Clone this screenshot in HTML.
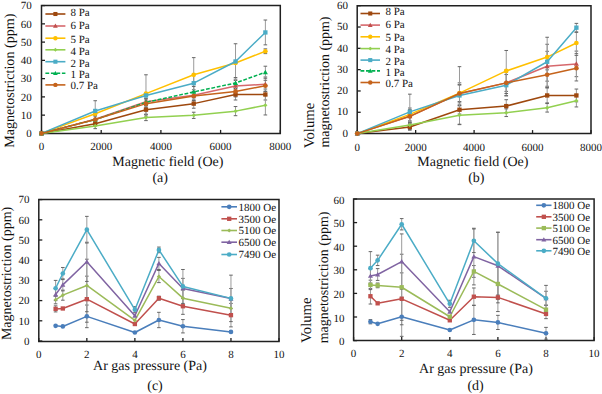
<!DOCTYPE html><html><head><meta charset="utf-8"><style>html,body{margin:0;padding:0;background:#fff;width:602px;height:394px;overflow:hidden}svg{display:block}text{font-family:"Liberation Serif",serif;fill:#111;text-rendering:geometricPrecision}</style></head><body>
<svg width="602" height="394" viewBox="0 0 602 394">
<path d="M41.5 5.6H280.3V133.4H41.5Z" fill="none" stroke="#202020" stroke-width="1.5" stroke-linejoin="miter"/>
<line x1="41.5" y1="133.4" x2="45" y2="133.4" stroke="#202020" stroke-width="1.3"/>
<text x="31.8" y="137.2" text-anchor="end" font-size="11">0</text>
<line x1="41.5" y1="115.14" x2="45" y2="115.14" stroke="#202020" stroke-width="1.3"/>
<text x="31.8" y="118.94" text-anchor="end" font-size="11">10</text>
<line x1="41.5" y1="96.89" x2="45" y2="96.89" stroke="#202020" stroke-width="1.3"/>
<text x="31.8" y="100.69" text-anchor="end" font-size="11">20</text>
<line x1="41.5" y1="78.63" x2="45" y2="78.63" stroke="#202020" stroke-width="1.3"/>
<text x="31.8" y="82.43" text-anchor="end" font-size="11">30</text>
<line x1="41.5" y1="60.37" x2="45" y2="60.37" stroke="#202020" stroke-width="1.3"/>
<text x="31.8" y="64.17" text-anchor="end" font-size="11">40</text>
<line x1="41.5" y1="42.11" x2="45" y2="42.11" stroke="#202020" stroke-width="1.3"/>
<text x="31.8" y="45.91" text-anchor="end" font-size="11">50</text>
<line x1="41.5" y1="23.86" x2="45" y2="23.86" stroke="#202020" stroke-width="1.3"/>
<text x="31.8" y="27.66" text-anchor="end" font-size="11">60</text>
<line x1="41.5" y1="5.6" x2="45" y2="5.6" stroke="#202020" stroke-width="1.3"/>
<text x="31.8" y="9.4" text-anchor="end" font-size="11">70</text>
<line x1="41.5" y1="133.4" x2="41.5" y2="129.9" stroke="#202020" stroke-width="1.3"/>
<text x="41.5" y="150.4" text-anchor="middle" font-size="11">0</text>
<line x1="101.2" y1="133.4" x2="101.2" y2="129.9" stroke="#202020" stroke-width="1.3"/>
<text x="101.2" y="150.4" text-anchor="middle" font-size="11">2000</text>
<line x1="160.9" y1="133.4" x2="160.9" y2="129.9" stroke="#202020" stroke-width="1.3"/>
<text x="160.9" y="150.4" text-anchor="middle" font-size="11">4000</text>
<line x1="220.6" y1="133.4" x2="220.6" y2="129.9" stroke="#202020" stroke-width="1.3"/>
<text x="220.6" y="150.4" text-anchor="middle" font-size="11">6000</text>
<line x1="280.3" y1="133.4" x2="280.3" y2="129.9" stroke="#202020" stroke-width="1.3"/>
<text x="280.3" y="150.4" text-anchor="middle" font-size="11">8000</text>
<path d="M145.98 114.23V105.1" stroke="#9a9a9a" stroke-width="1" fill="none"/>
<path d="M144.18 114.23H147.78M144.18 105.1H147.78" stroke="#666" stroke-width="1" fill="none"/>
<path d="M193.73 108.21V99.08" stroke="#9a9a9a" stroke-width="1" fill="none"/>
<path d="M191.93 108.21H195.53M191.93 99.08H195.53" stroke="#666" stroke-width="1" fill="none"/>
<path d="M235.53 99.99V89.04" stroke="#9a9a9a" stroke-width="1" fill="none"/>
<path d="M233.72 99.99H237.33M233.72 89.04H237.33" stroke="#666" stroke-width="1" fill="none"/>
<path d="M265.38 99.99V89.04" stroke="#9a9a9a" stroke-width="1" fill="none"/>
<path d="M263.57 99.99H267.18M263.57 89.04H267.18" stroke="#666" stroke-width="1" fill="none"/>
<path d="M145.98 105.47V98.16" stroke="#9a9a9a" stroke-width="1" fill="none"/>
<path d="M144.18 105.47H147.78M144.18 98.16H147.78" stroke="#666" stroke-width="1" fill="none"/>
<path d="M193.73 100.72V89.77" stroke="#9a9a9a" stroke-width="1" fill="none"/>
<path d="M191.93 100.72H195.53M191.93 89.77H195.53" stroke="#666" stroke-width="1" fill="none"/>
<path d="M235.53 91.41V80.45" stroke="#9a9a9a" stroke-width="1" fill="none"/>
<path d="M233.72 91.41H237.33M233.72 80.45H237.33" stroke="#666" stroke-width="1" fill="none"/>
<path d="M265.38 91.59V76.99" stroke="#9a9a9a" stroke-width="1" fill="none"/>
<path d="M263.57 91.59H267.18M263.57 76.99H267.18" stroke="#666" stroke-width="1" fill="none"/>
<path d="M193.73 91.96V57.63" stroke="#9a9a9a" stroke-width="1" fill="none"/>
<path d="M191.93 91.96H195.53M191.93 57.63H195.53" stroke="#666" stroke-width="1" fill="none"/>
<path d="M265.38 53.62V48.87" stroke="#9a9a9a" stroke-width="1" fill="none"/>
<path d="M263.57 53.62H267.18M263.57 48.87H267.18" stroke="#666" stroke-width="1" fill="none"/>
<path d="M95.23 128.65V123.18" stroke="#9a9a9a" stroke-width="1" fill="none"/>
<path d="M93.43 128.65H97.03M93.43 123.18H97.03" stroke="#666" stroke-width="1" fill="none"/>
<path d="M145.98 120.62V114.41" stroke="#9a9a9a" stroke-width="1" fill="none"/>
<path d="M144.18 120.62H147.78M144.18 114.41H147.78" stroke="#666" stroke-width="1" fill="none"/>
<path d="M193.73 118.43V112.22" stroke="#9a9a9a" stroke-width="1" fill="none"/>
<path d="M191.93 118.43H195.53M191.93 112.22H195.53" stroke="#666" stroke-width="1" fill="none"/>
<path d="M235.53 115.69V106.56" stroke="#9a9a9a" stroke-width="1" fill="none"/>
<path d="M233.72 115.69H237.33M233.72 106.56H237.33" stroke="#666" stroke-width="1" fill="none"/>
<path d="M265.38 114.96V95.61" stroke="#9a9a9a" stroke-width="1" fill="none"/>
<path d="M263.57 114.96H267.18M263.57 95.61H267.18" stroke="#666" stroke-width="1" fill="none"/>
<path d="M95.23 121.17V100.72" stroke="#9a9a9a" stroke-width="1" fill="none"/>
<path d="M93.43 121.17H97.03M93.43 100.72H97.03" stroke="#666" stroke-width="1" fill="none"/>
<path d="M145.98 116.06V74.79" stroke="#9a9a9a" stroke-width="1" fill="none"/>
<path d="M144.18 116.06H147.78M144.18 74.79H147.78" stroke="#666" stroke-width="1" fill="none"/>
<path d="M193.73 92.32V74.06" stroke="#9a9a9a" stroke-width="1" fill="none"/>
<path d="M191.93 92.32H195.53M191.93 74.06H195.53" stroke="#666" stroke-width="1" fill="none"/>
<path d="M235.53 79.18V43.76" stroke="#9a9a9a" stroke-width="1" fill="none"/>
<path d="M233.72 79.18H237.33M233.72 43.76H237.33" stroke="#666" stroke-width="1" fill="none"/>
<path d="M265.38 44.85V20.02" stroke="#9a9a9a" stroke-width="1" fill="none"/>
<path d="M263.57 44.85H267.18M263.57 20.02H267.18" stroke="#666" stroke-width="1" fill="none"/>
<path d="M95.23 123.18V115.87" stroke="#9a9a9a" stroke-width="1" fill="none"/>
<path d="M93.43 123.18H97.03M93.43 115.87H97.03" stroke="#666" stroke-width="1" fill="none"/>
<path d="M145.98 106.01V98.71" stroke="#9a9a9a" stroke-width="1" fill="none"/>
<path d="M144.18 106.01H147.78M144.18 98.71H147.78" stroke="#666" stroke-width="1" fill="none"/>
<path d="M193.73 97.43V86.48" stroke="#9a9a9a" stroke-width="1" fill="none"/>
<path d="M191.93 97.43H195.53M191.93 86.48H195.53" stroke="#666" stroke-width="1" fill="none"/>
<path d="M235.53 88.49V77.53" stroke="#9a9a9a" stroke-width="1" fill="none"/>
<path d="M233.72 88.49H237.33M233.72 77.53H237.33" stroke="#666" stroke-width="1" fill="none"/>
<path d="M265.38 78.26V66.21" stroke="#9a9a9a" stroke-width="1" fill="none"/>
<path d="M263.57 78.26H267.18M263.57 66.21H267.18" stroke="#666" stroke-width="1" fill="none"/>
<path d="M95.23 123.18V115.87" stroke="#9a9a9a" stroke-width="1" fill="none"/>
<path d="M93.43 123.18H97.03M93.43 115.87H97.03" stroke="#666" stroke-width="1" fill="none"/>
<path d="M145.98 107.29V99.99" stroke="#9a9a9a" stroke-width="1" fill="none"/>
<path d="M144.18 107.29H147.78M144.18 99.99H147.78" stroke="#666" stroke-width="1" fill="none"/>
<path d="M193.73 100.54V91.41" stroke="#9a9a9a" stroke-width="1" fill="none"/>
<path d="M191.93 100.54H195.53M191.93 91.41H195.53" stroke="#666" stroke-width="1" fill="none"/>
<path d="M235.53 96.89V85.93" stroke="#9a9a9a" stroke-width="1" fill="none"/>
<path d="M233.72 96.89H237.33M233.72 85.93H237.33" stroke="#666" stroke-width="1" fill="none"/>
<path d="M265.38 91.23V80.27" stroke="#9a9a9a" stroke-width="1" fill="none"/>
<path d="M263.57 91.23H267.18M263.57 80.27H267.18" stroke="#666" stroke-width="1" fill="none"/>
<polyline points="41.5,133.4 95.23,123.72 145.98,109.67 193.73,103.64 235.53,94.51 265.38,94.51" fill="none" stroke="#9E480E" stroke-width="1.5" stroke-linejoin="round"/>
<rect x="39.34" y="131.24" width="4.32" height="4.32" fill="#9E480E"/>
<rect x="93.07" y="121.56" width="4.32" height="4.32" fill="#9E480E"/>
<rect x="143.82" y="107.51" width="4.32" height="4.32" fill="#9E480E"/>
<rect x="191.57" y="101.48" width="4.32" height="4.32" fill="#9E480E"/>
<rect x="233.37" y="92.35" width="4.32" height="4.32" fill="#9E480E"/>
<rect x="263.21" y="92.35" width="4.32" height="4.32" fill="#9E480E"/>
<polyline points="41.5,133.4 95.23,119.16 145.98,101.82 193.73,95.24 235.53,85.93 265.38,84.29" fill="none" stroke="#D6686C" stroke-width="1.5" stroke-linejoin="round"/>
<path d="M41.5 130.88L44.02 135.29L38.98 135.29Z" fill="#C0504D"/>
<path d="M95.23 116.64L97.75 121.05L92.71 121.05Z" fill="#C0504D"/>
<path d="M145.98 99.3L148.5 103.71L143.46 103.71Z" fill="#C0504D"/>
<path d="M193.73 92.72L196.25 97.13L191.21 97.13Z" fill="#C0504D"/>
<path d="M235.53 83.41L238.05 87.82L233 87.82Z" fill="#C0504D"/>
<path d="M265.38 81.77L267.89 86.18L262.86 86.18Z" fill="#C0504D"/>
<polyline points="41.5,133.4 95.23,113.68 145.98,93.6 193.73,74.79 235.53,62.93 265.38,51.24" fill="none" stroke="#FFC000" stroke-width="1.5" stroke-linejoin="round"/>
<circle cx="41.5" cy="133.4" r="2.34" fill="#FFC000"/>
<circle cx="95.23" cy="113.68" r="2.34" fill="#FFC000"/>
<circle cx="145.98" cy="93.6" r="2.34" fill="#FFC000"/>
<circle cx="193.73" cy="74.79" r="2.34" fill="#FFC000"/>
<circle cx="235.53" cy="62.93" r="2.34" fill="#FFC000"/>
<circle cx="265.38" cy="51.24" r="2.34" fill="#FFC000"/>
<polyline points="41.5,133.4 95.23,125.91 145.98,117.52 193.73,115.33 235.53,111.13 265.38,105.28" fill="none" stroke="#92D050" stroke-width="1.5" stroke-linejoin="round"/>
<path d="M41.5 131.33L43.57 133.4L41.5 135.47L39.43 133.4Z" fill="#92D050"/>
<path d="M95.23 123.84L97.3 125.91L95.23 127.98L93.16 125.91Z" fill="#92D050"/>
<path d="M145.98 115.45L148.05 117.52L145.98 119.59L143.91 117.52Z" fill="#92D050"/>
<path d="M193.73 113.26L195.8 115.33L193.73 117.4L191.66 115.33Z" fill="#92D050"/>
<path d="M235.53 109.06L237.59 111.13L235.53 113.2L233.46 111.13Z" fill="#92D050"/>
<path d="M265.38 103.21L267.44 105.28L265.38 107.35L263.31 105.28Z" fill="#92D050"/>
<polyline points="41.5,133.4 95.23,110.94 145.98,95.43 193.73,83.19 235.53,61.47 265.38,32.44" fill="none" stroke="#4BACC6" stroke-width="1.5" stroke-linejoin="round"/>
<rect x="39.34" y="131.24" width="4.32" height="4.32" fill="#4BACC6"/>
<rect x="93.07" y="108.78" width="4.32" height="4.32" fill="#4BACC6"/>
<rect x="143.82" y="93.27" width="4.32" height="4.32" fill="#4BACC6"/>
<rect x="191.57" y="81.03" width="4.32" height="4.32" fill="#4BACC6"/>
<rect x="233.37" y="59.31" width="4.32" height="4.32" fill="#4BACC6"/>
<rect x="263.21" y="30.28" width="4.32" height="4.32" fill="#4BACC6"/>
<polyline points="41.5,133.4 95.23,119.52 145.98,102.36 193.73,91.96 235.53,83.01 265.38,72.24" fill="none" stroke="#00B050" stroke-width="1.5" stroke-linejoin="round" stroke-dasharray="3.8 1.7"/>
<path d="M41.5 130.88L44.02 135.29L38.98 135.29Z" fill="#00B050"/>
<path d="M95.23 117L97.75 121.41L92.71 121.41Z" fill="#00B050"/>
<path d="M145.98 99.84L148.5 104.25L143.46 104.25Z" fill="#00B050"/>
<path d="M193.73 89.44L196.25 93.85L191.21 93.85Z" fill="#00B050"/>
<path d="M235.53 80.49L238.05 84.9L233 84.9Z" fill="#00B050"/>
<path d="M265.38 69.72L267.89 74.13L262.86 74.13Z" fill="#00B050"/>
<polyline points="41.5,133.4 95.23,119.52 145.98,103.64 193.73,95.97 235.53,91.41 265.38,85.75" fill="none" stroke="#C5631B" stroke-width="1.5" stroke-linejoin="round"/>
<circle cx="41.5" cy="133.4" r="2.34" fill="#C5631B"/>
<circle cx="95.23" cy="119.52" r="2.34" fill="#C5631B"/>
<circle cx="145.98" cy="103.64" r="2.34" fill="#C5631B"/>
<circle cx="193.73" cy="95.97" r="2.34" fill="#C5631B"/>
<circle cx="235.53" cy="91.41" r="2.34" fill="#C5631B"/>
<circle cx="265.38" cy="85.75" r="2.34" fill="#C5631B"/>
<line x1="45.4" y1="14" x2="65.4" y2="14" stroke="#9E480E" stroke-width="1.6"/>
<rect x="53.36" y="11.96" width="4.08" height="4.08" fill="#9E480E"/>
<text x="70.5" y="16.2" font-size="11">8 Pa</text>
<line x1="45.4" y1="26" x2="65.4" y2="26" stroke="#D6686C" stroke-width="1.6"/>
<path d="M55.4 23.62L57.78 27.79L53.02 27.79Z" fill="#C0504D"/>
<text x="70.5" y="28.5" font-size="11">6 Pa</text>
<line x1="45.4" y1="38.2" x2="65.4" y2="38.2" stroke="#FFC000" stroke-width="1.6"/>
<circle cx="55.4" cy="38.2" r="2.21" fill="#FFC000"/>
<text x="70.5" y="42.6" font-size="11">5 Pa</text>
<line x1="45.4" y1="49.8" x2="65.4" y2="49.8" stroke="#92D050" stroke-width="1.6"/>
<path d="M55.4 47.84L57.36 49.8L55.4 51.75L53.45 49.8Z" fill="#92D050"/>
<text x="70.5" y="54.8" font-size="11">4 Pa</text>
<line x1="45.4" y1="61.7" x2="65.4" y2="61.7" stroke="#4BACC6" stroke-width="1.6"/>
<rect x="53.36" y="59.66" width="4.08" height="4.08" fill="#4BACC6"/>
<text x="70.5" y="66.8" font-size="11">2 Pa</text>
<line x1="45.4" y1="73.3" x2="65.4" y2="73.3" stroke="#00B050" stroke-width="1.6" stroke-dasharray="3.8 1.7"/>
<path d="M55.4 70.92L57.78 75.08L53.02 75.08Z" fill="#00B050"/>
<text x="70.5" y="78.3" font-size="11">1 Pa</text>
<line x1="45.4" y1="84.9" x2="65.4" y2="84.9" stroke="#C5631B" stroke-width="1.6"/>
<circle cx="55.4" cy="84.9" r="2.21" fill="#C5631B"/>
<text x="70.5" y="89.3" font-size="11">0.7 Pa</text>
<text x="167.9" y="166.4" text-anchor="middle" font-size="14">Magnetic field (Oe)</text>
<text x="160.2" y="181.5" text-anchor="middle" font-size="14">(a)</text>
<text transform="translate(13.8,80.7) rotate(-90)" text-anchor="middle" font-size="14.1">Magnetostriction (ppm)</text>
<path d="M357.2 5.7H591V133.6H357.2Z" fill="none" stroke="#202020" stroke-width="1.5" stroke-linejoin="miter"/>
<line x1="357.2" y1="133.6" x2="360.7" y2="133.6" stroke="#202020" stroke-width="1.3"/>
<text x="348" y="136.8" text-anchor="end" font-size="11">0</text>
<line x1="357.2" y1="112.28" x2="360.7" y2="112.28" stroke="#202020" stroke-width="1.3"/>
<text x="348" y="115.48" text-anchor="end" font-size="11">10</text>
<line x1="357.2" y1="90.97" x2="360.7" y2="90.97" stroke="#202020" stroke-width="1.3"/>
<text x="348" y="94.17" text-anchor="end" font-size="11">20</text>
<line x1="357.2" y1="69.65" x2="360.7" y2="69.65" stroke="#202020" stroke-width="1.3"/>
<text x="348" y="72.85" text-anchor="end" font-size="11">30</text>
<line x1="357.2" y1="48.33" x2="360.7" y2="48.33" stroke="#202020" stroke-width="1.3"/>
<text x="348" y="51.53" text-anchor="end" font-size="11">40</text>
<line x1="357.2" y1="27.02" x2="360.7" y2="27.02" stroke="#202020" stroke-width="1.3"/>
<text x="348" y="30.22" text-anchor="end" font-size="11">50</text>
<line x1="357.2" y1="5.7" x2="360.7" y2="5.7" stroke="#202020" stroke-width="1.3"/>
<text x="348" y="8.9" text-anchor="end" font-size="11">60</text>
<line x1="357.2" y1="133.6" x2="357.2" y2="130.1" stroke="#202020" stroke-width="1.3"/>
<text x="357.2" y="150.6" text-anchor="middle" font-size="11">0</text>
<line x1="415.65" y1="133.6" x2="415.65" y2="130.1" stroke="#202020" stroke-width="1.3"/>
<text x="415.65" y="150.6" text-anchor="middle" font-size="11">2000</text>
<line x1="474.1" y1="133.6" x2="474.1" y2="130.1" stroke="#202020" stroke-width="1.3"/>
<text x="474.1" y="150.6" text-anchor="middle" font-size="11">4000</text>
<line x1="532.55" y1="133.6" x2="532.55" y2="130.1" stroke="#202020" stroke-width="1.3"/>
<text x="532.55" y="150.6" text-anchor="middle" font-size="11">6000</text>
<line x1="591" y1="133.6" x2="591" y2="130.1" stroke="#202020" stroke-width="1.3"/>
<text x="591" y="150.6" text-anchor="middle" font-size="11">8000</text>
<path d="M409.81 130.19V123.79" stroke="#9a9a9a" stroke-width="1" fill="none"/>
<path d="M408 130.19H411.61M408 123.79H411.61" stroke="#666" stroke-width="1" fill="none"/>
<path d="M459.49 113.99V105.46" stroke="#9a9a9a" stroke-width="1" fill="none"/>
<path d="M457.69 113.99H461.29M457.69 105.46H461.29" stroke="#666" stroke-width="1" fill="none"/>
<path d="M506.25 112.5V99.71" stroke="#9a9a9a" stroke-width="1" fill="none"/>
<path d="M504.45 112.5H508.05M504.45 99.71H508.05" stroke="#666" stroke-width="1" fill="none"/>
<path d="M547.16 102.9V87.98" stroke="#9a9a9a" stroke-width="1" fill="none"/>
<path d="M545.36 102.9H548.96M545.36 87.98H548.96" stroke="#666" stroke-width="1" fill="none"/>
<path d="M576.39 101.84V89.05" stroke="#9a9a9a" stroke-width="1" fill="none"/>
<path d="M574.59 101.84H578.19M574.59 89.05H578.19" stroke="#666" stroke-width="1" fill="none"/>
<path d="M409.81 122.73V109.94" stroke="#9a9a9a" stroke-width="1" fill="none"/>
<path d="M408 122.73H411.61M408 109.94H411.61" stroke="#666" stroke-width="1" fill="none"/>
<path d="M459.49 104.18V82.87" stroke="#9a9a9a" stroke-width="1" fill="none"/>
<path d="M457.69 104.18H461.29M457.69 82.87H461.29" stroke="#666" stroke-width="1" fill="none"/>
<path d="M506.25 95.66V70.08" stroke="#9a9a9a" stroke-width="1" fill="none"/>
<path d="M504.45 95.66H508.05M504.45 70.08H508.05" stroke="#666" stroke-width="1" fill="none"/>
<path d="M547.16 81.16V51.32" stroke="#9a9a9a" stroke-width="1" fill="none"/>
<path d="M545.36 81.16H548.96M545.36 51.32H548.96" stroke="#666" stroke-width="1" fill="none"/>
<path d="M576.39 76.68V51.1" stroke="#9a9a9a" stroke-width="1" fill="none"/>
<path d="M574.59 76.68H578.19M574.59 51.1H578.19" stroke="#666" stroke-width="1" fill="none"/>
<path d="M409.81 120.81V108.02" stroke="#9a9a9a" stroke-width="1" fill="none"/>
<path d="M408 120.81H411.61M408 108.02H411.61" stroke="#666" stroke-width="1" fill="none"/>
<path d="M459.49 101.62V84.57" stroke="#9a9a9a" stroke-width="1" fill="none"/>
<path d="M457.69 101.62H461.29M457.69 84.57H461.29" stroke="#666" stroke-width="1" fill="none"/>
<path d="M506.25 91.39V50.47" stroke="#9a9a9a" stroke-width="1" fill="none"/>
<path d="M504.45 91.39H508.05M504.45 50.47H508.05" stroke="#666" stroke-width="1" fill="none"/>
<path d="M547.16 69.86V44.28" stroke="#9a9a9a" stroke-width="1" fill="none"/>
<path d="M545.36 69.86H548.96M545.36 44.28H548.96" stroke="#666" stroke-width="1" fill="none"/>
<path d="M576.39 53.66V32.35" stroke="#9a9a9a" stroke-width="1" fill="none"/>
<path d="M574.59 53.66H578.19M574.59 32.35H578.19" stroke="#666" stroke-width="1" fill="none"/>
<path d="M409.81 128.27V121.88" stroke="#9a9a9a" stroke-width="1" fill="none"/>
<path d="M408 128.27H411.61M408 121.88H411.61" stroke="#666" stroke-width="1" fill="none"/>
<path d="M459.49 124.65V105.89" stroke="#9a9a9a" stroke-width="1" fill="none"/>
<path d="M457.69 124.65H461.29M457.69 105.89H461.29" stroke="#666" stroke-width="1" fill="none"/>
<path d="M506.25 116.55V108.87" stroke="#9a9a9a" stroke-width="1" fill="none"/>
<path d="M504.45 116.55H508.05M504.45 108.87H508.05" stroke="#666" stroke-width="1" fill="none"/>
<path d="M547.16 112.07V103.54" stroke="#9a9a9a" stroke-width="1" fill="none"/>
<path d="M545.36 112.07H548.96M545.36 103.54H548.96" stroke="#666" stroke-width="1" fill="none"/>
<path d="M576.39 106.95V94.59" stroke="#9a9a9a" stroke-width="1" fill="none"/>
<path d="M574.59 106.95H578.19M574.59 94.59H578.19" stroke="#666" stroke-width="1" fill="none"/>
<path d="M409.81 129.55V94.16" stroke="#9a9a9a" stroke-width="1" fill="none"/>
<path d="M408 129.55H411.61M408 94.16H411.61" stroke="#666" stroke-width="1" fill="none"/>
<path d="M459.49 124.22V66.67" stroke="#9a9a9a" stroke-width="1" fill="none"/>
<path d="M457.69 124.22H461.29M457.69 66.67H461.29" stroke="#666" stroke-width="1" fill="none"/>
<path d="M506.25 95.87V74.55" stroke="#9a9a9a" stroke-width="1" fill="none"/>
<path d="M504.45 95.87H508.05M504.45 74.55H508.05" stroke="#666" stroke-width="1" fill="none"/>
<path d="M547.16 86.28V37.25" stroke="#9a9a9a" stroke-width="1" fill="none"/>
<path d="M545.36 86.28H548.96M545.36 37.25H548.96" stroke="#666" stroke-width="1" fill="none"/>
<path d="M576.39 31.92V23.39" stroke="#9a9a9a" stroke-width="1" fill="none"/>
<path d="M574.59 31.92H578.19M574.59 23.39H578.19" stroke="#666" stroke-width="1" fill="none"/>
<path d="M409.81 122.73V109.94" stroke="#9a9a9a" stroke-width="1" fill="none"/>
<path d="M408 122.73H411.61M408 109.94H411.61" stroke="#666" stroke-width="1" fill="none"/>
<path d="M459.49 102.05V85" stroke="#9a9a9a" stroke-width="1" fill="none"/>
<path d="M457.69 102.05H461.29M457.69 85H461.29" stroke="#666" stroke-width="1" fill="none"/>
<path d="M506.25 93.52V72.21" stroke="#9a9a9a" stroke-width="1" fill="none"/>
<path d="M504.45 93.52H508.05M504.45 72.21H508.05" stroke="#666" stroke-width="1" fill="none"/>
<path d="M547.16 87.56V61.98" stroke="#9a9a9a" stroke-width="1" fill="none"/>
<path d="M545.36 87.56H548.96M545.36 61.98H548.96" stroke="#666" stroke-width="1" fill="none"/>
<path d="M576.39 80.95V55.37" stroke="#9a9a9a" stroke-width="1" fill="none"/>
<path d="M574.59 80.95H578.19M574.59 55.37H578.19" stroke="#666" stroke-width="1" fill="none"/>
<polyline points="357.2,133.6 409.81,126.99 459.49,109.73 506.25,106.1 547.16,95.44 576.39,95.44" fill="none" stroke="#9E480E" stroke-width="1.5" stroke-linejoin="round"/>
<rect x="355.04" y="131.44" width="4.32" height="4.32" fill="#9E480E"/>
<rect x="407.64" y="124.83" width="4.32" height="4.32" fill="#9E480E"/>
<rect x="457.33" y="107.57" width="4.32" height="4.32" fill="#9E480E"/>
<rect x="504.09" y="103.94" width="4.32" height="4.32" fill="#9E480E"/>
<rect x="545" y="93.28" width="4.32" height="4.32" fill="#9E480E"/>
<rect x="574.23" y="93.28" width="4.32" height="4.32" fill="#9E480E"/>
<polyline points="357.2,133.6 409.81,116.33 459.49,93.52 506.25,82.87 547.16,66.24 576.39,63.89" fill="none" stroke="#D6686C" stroke-width="1.5" stroke-linejoin="round"/>
<path d="M357.2 131.08L359.72 135.49L354.68 135.49Z" fill="#C0504D"/>
<path d="M409.81 113.81L412.32 118.22L407.29 118.22Z" fill="#C0504D"/>
<path d="M459.49 91L462.01 95.41L456.97 95.41Z" fill="#C0504D"/>
<path d="M506.25 80.35L508.77 84.76L503.73 84.76Z" fill="#C0504D"/>
<path d="M547.16 63.72L549.68 68.13L544.64 68.13Z" fill="#C0504D"/>
<path d="M576.39 61.37L578.91 65.78L573.87 65.78Z" fill="#C0504D"/>
<polyline points="357.2,133.6 409.81,114.41 459.49,93.1 506.25,70.93 547.16,57.07 576.39,43" fill="none" stroke="#FFC000" stroke-width="1.5" stroke-linejoin="round"/>
<circle cx="357.2" cy="133.6" r="2.34" fill="#FFC000"/>
<circle cx="409.81" cy="114.41" r="2.34" fill="#FFC000"/>
<circle cx="459.49" cy="93.1" r="2.34" fill="#FFC000"/>
<circle cx="506.25" cy="70.93" r="2.34" fill="#FFC000"/>
<circle cx="547.16" cy="57.07" r="2.34" fill="#FFC000"/>
<circle cx="576.39" cy="43" r="2.34" fill="#FFC000"/>
<polyline points="357.2,133.6 409.81,125.07 459.49,115.27 506.25,112.71 547.16,107.81 576.39,100.77" fill="none" stroke="#92D050" stroke-width="1.5" stroke-linejoin="round"/>
<path d="M357.2 131.53L359.27 133.6L357.2 135.67L355.13 133.6Z" fill="#92D050"/>
<path d="M409.81 123L411.88 125.07L409.81 127.14L407.74 125.07Z" fill="#92D050"/>
<path d="M459.49 113.2L461.56 115.27L459.49 117.34L457.42 115.27Z" fill="#92D050"/>
<path d="M506.25 110.64L508.32 112.71L506.25 114.78L504.18 112.71Z" fill="#92D050"/>
<path d="M547.16 105.74L549.23 107.81L547.16 109.88L545.09 107.81Z" fill="#92D050"/>
<path d="M576.39 98.7L578.46 100.77L576.39 102.84L574.32 100.77Z" fill="#92D050"/>
<polyline points="357.2,133.6 409.81,111.86 459.49,95.44 506.25,85.21 547.16,61.76 576.39,27.66" fill="none" stroke="#4BACC6" stroke-width="1.5" stroke-linejoin="round"/>
<rect x="355.04" y="131.44" width="4.32" height="4.32" fill="#4BACC6"/>
<rect x="407.64" y="109.7" width="4.32" height="4.32" fill="#4BACC6"/>
<rect x="457.33" y="93.28" width="4.32" height="4.32" fill="#4BACC6"/>
<rect x="504.09" y="83.05" width="4.32" height="4.32" fill="#4BACC6"/>
<rect x="545" y="59.6" width="4.32" height="4.32" fill="#4BACC6"/>
<rect x="574.23" y="25.5" width="4.32" height="4.32" fill="#4BACC6"/>
<polyline points="357.2,133.6 409.81,116.33 459.49,93.52 506.25,82.87 547.16,74.77 576.39,68.16" fill="none" stroke="#C5631B" stroke-width="1.5" stroke-linejoin="round"/>
<circle cx="357.2" cy="133.6" r="2.34" fill="#C5631B"/>
<circle cx="409.81" cy="116.33" r="2.34" fill="#C5631B"/>
<circle cx="459.49" cy="93.52" r="2.34" fill="#C5631B"/>
<circle cx="506.25" cy="82.87" r="2.34" fill="#C5631B"/>
<circle cx="547.16" cy="74.77" r="2.34" fill="#C5631B"/>
<circle cx="576.39" cy="68.16" r="2.34" fill="#C5631B"/>
<line x1="360.5" y1="13.5" x2="380" y2="13.5" stroke="#9E480E" stroke-width="1.6"/>
<rect x="368.21" y="11.46" width="4.08" height="4.08" fill="#9E480E"/>
<text x="385.5" y="15.4" font-size="11">8 Pa</text>
<line x1="360.5" y1="25.1" x2="380" y2="25.1" stroke="#D6686C" stroke-width="1.6"/>
<path d="M370.25 22.72L372.63 26.89L367.87 26.89Z" fill="#C0504D"/>
<text x="385.5" y="28" font-size="11">6 Pa</text>
<line x1="360.5" y1="36.8" x2="380" y2="36.8" stroke="#FFC000" stroke-width="1.6"/>
<circle cx="370.25" cy="36.8" r="2.21" fill="#FFC000"/>
<text x="385.5" y="41.1" font-size="11">5 Pa</text>
<line x1="360.5" y1="48.6" x2="380" y2="48.6" stroke="#92D050" stroke-width="1.6"/>
<path d="M370.25 46.65L372.2 48.6L370.25 50.55L368.3 48.6Z" fill="#92D050"/>
<text x="385.5" y="53.3" font-size="11">4 Pa</text>
<line x1="360.5" y1="60.1" x2="380" y2="60.1" stroke="#4BACC6" stroke-width="1.6"/>
<rect x="368.21" y="58.06" width="4.08" height="4.08" fill="#4BACC6"/>
<text x="385.5" y="64.8" font-size="11">2 Pa</text>
<line x1="360.5" y1="70.9" x2="380" y2="70.9" stroke="#00B050" stroke-width="1.6" stroke-dasharray="3.8 1.7"/>
<path d="M370.25 68.52L372.63 72.69L367.87 72.69Z" fill="#00B050"/>
<text x="385.5" y="76.2" font-size="11">1 Pa</text>
<line x1="360.5" y1="82.5" x2="380" y2="82.5" stroke="#C5631B" stroke-width="1.6"/>
<circle cx="370.25" cy="82.5" r="2.21" fill="#C5631B"/>
<text x="385.5" y="87.2" font-size="11">0.7 Pa</text>
<text x="472.9" y="166.4" text-anchor="middle" font-size="14">Magnetic field (Oe)</text>
<text x="476.3" y="181.5" text-anchor="middle" font-size="14">(b)</text>
<text transform="translate(313.9,125.5) rotate(-90)" text-anchor="middle" font-size="14.7">Volume</text>
<text transform="translate(329.4,82.05) rotate(-90)" text-anchor="middle" font-size="13.9">magnetostriction (ppm)</text>
<path d="M38.8 199.6H279V341.5H38.8Z" fill="none" stroke="#202020" stroke-width="1.5" stroke-linejoin="miter"/>
<line x1="38.8" y1="341" x2="42.3" y2="341" stroke="#202020" stroke-width="1.3"/>
<text x="29.5" y="344.8" text-anchor="end" font-size="11">0</text>
<line x1="38.8" y1="320.8" x2="42.3" y2="320.8" stroke="#202020" stroke-width="1.3"/>
<text x="29.5" y="324.6" text-anchor="end" font-size="11">10</text>
<line x1="38.8" y1="300.6" x2="42.3" y2="300.6" stroke="#202020" stroke-width="1.3"/>
<text x="29.5" y="304.4" text-anchor="end" font-size="11">20</text>
<line x1="38.8" y1="280.4" x2="42.3" y2="280.4" stroke="#202020" stroke-width="1.3"/>
<text x="29.5" y="284.2" text-anchor="end" font-size="11">30</text>
<line x1="38.8" y1="260.2" x2="42.3" y2="260.2" stroke="#202020" stroke-width="1.3"/>
<text x="29.5" y="264" text-anchor="end" font-size="11">40</text>
<line x1="38.8" y1="240" x2="42.3" y2="240" stroke="#202020" stroke-width="1.3"/>
<text x="29.5" y="243.8" text-anchor="end" font-size="11">50</text>
<line x1="38.8" y1="219.8" x2="42.3" y2="219.8" stroke="#202020" stroke-width="1.3"/>
<text x="29.5" y="223.6" text-anchor="end" font-size="11">60</text>
<line x1="38.8" y1="199.6" x2="42.3" y2="199.6" stroke="#202020" stroke-width="1.3"/>
<text x="29.5" y="203.4" text-anchor="end" font-size="11">70</text>
<line x1="38.8" y1="341.5" x2="38.8" y2="338" stroke="#202020" stroke-width="1.3"/>
<text x="38.8" y="358.1" text-anchor="middle" font-size="11">0</text>
<line x1="86.84" y1="341.5" x2="86.84" y2="338" stroke="#202020" stroke-width="1.3"/>
<text x="86.84" y="358.1" text-anchor="middle" font-size="11">2</text>
<line x1="134.88" y1="341.5" x2="134.88" y2="338" stroke="#202020" stroke-width="1.3"/>
<text x="134.88" y="358.1" text-anchor="middle" font-size="11">4</text>
<line x1="182.92" y1="341.5" x2="182.92" y2="338" stroke="#202020" stroke-width="1.3"/>
<text x="182.92" y="358.1" text-anchor="middle" font-size="11">6</text>
<line x1="230.96" y1="341.5" x2="230.96" y2="338" stroke="#202020" stroke-width="1.3"/>
<text x="230.96" y="358.1" text-anchor="middle" font-size="11">8</text>
<line x1="279" y1="341.5" x2="279" y2="338" stroke="#202020" stroke-width="1.3"/>
<text x="279" y="358.1" text-anchor="middle" font-size="11">10</text>
<path d="M86.84 327.67V305.04" stroke="#9a9a9a" stroke-width="1" fill="none"/>
<path d="M85.04 327.67H88.64M85.04 305.04H88.64" stroke="#666" stroke-width="1" fill="none"/>
<path d="M158.9 327.67V312.32" stroke="#9a9a9a" stroke-width="1" fill="none"/>
<path d="M157.1 327.67H160.7M157.1 312.32H160.7" stroke="#666" stroke-width="1" fill="none"/>
<path d="M182.92 332.92V319.59" stroke="#9a9a9a" stroke-width="1" fill="none"/>
<path d="M181.12 332.92H184.72M181.12 319.59H184.72" stroke="#666" stroke-width="1" fill="none"/>
<path d="M55.61 311.91V305.85" stroke="#9a9a9a" stroke-width="1" fill="none"/>
<path d="M53.81 311.91H57.41M53.81 305.85H57.41" stroke="#666" stroke-width="1" fill="none"/>
<path d="M86.84 322.21V276.16" stroke="#9a9a9a" stroke-width="1" fill="none"/>
<path d="M85.04 322.21H88.64M85.04 276.16H88.64" stroke="#666" stroke-width="1" fill="none"/>
<path d="M158.9 300.2V296.16" stroke="#9a9a9a" stroke-width="1" fill="none"/>
<path d="M157.1 300.2H160.7M157.1 296.16H160.7" stroke="#666" stroke-width="1" fill="none"/>
<path d="M182.92 314.34V298.18" stroke="#9a9a9a" stroke-width="1" fill="none"/>
<path d="M181.12 314.34H184.72M181.12 298.18H184.72" stroke="#666" stroke-width="1" fill="none"/>
<path d="M230.96 326.86V303.43" stroke="#9a9a9a" stroke-width="1" fill="none"/>
<path d="M229.16 326.86H232.76M229.16 303.43H232.76" stroke="#666" stroke-width="1" fill="none"/>
<path d="M55.61 303.83V295.75" stroke="#9a9a9a" stroke-width="1" fill="none"/>
<path d="M53.81 303.83H57.41M53.81 295.75H57.41" stroke="#666" stroke-width="1" fill="none"/>
<path d="M62.82 300.2V290.1" stroke="#9a9a9a" stroke-width="1" fill="none"/>
<path d="M61.02 300.2H64.62M61.02 290.1H64.62" stroke="#666" stroke-width="1" fill="none"/>
<path d="M86.84 311.71V259.19" stroke="#9a9a9a" stroke-width="1" fill="none"/>
<path d="M85.04 311.71H88.64M85.04 259.19H88.64" stroke="#666" stroke-width="1" fill="none"/>
<path d="M158.9 282.62V270.5" stroke="#9a9a9a" stroke-width="1" fill="none"/>
<path d="M157.1 282.62H160.7M157.1 270.5H160.7" stroke="#666" stroke-width="1" fill="none"/>
<path d="M182.92 306.26V290.1" stroke="#9a9a9a" stroke-width="1" fill="none"/>
<path d="M181.12 306.26H184.72M181.12 290.1H184.72" stroke="#666" stroke-width="1" fill="none"/>
<path d="M230.96 316.36V300.2" stroke="#9a9a9a" stroke-width="1" fill="none"/>
<path d="M229.16 316.36H232.76M229.16 300.2H232.76" stroke="#666" stroke-width="1" fill="none"/>
<path d="M55.61 300.6V288.48" stroke="#9a9a9a" stroke-width="1" fill="none"/>
<path d="M53.81 300.6H57.41M53.81 288.48H57.41" stroke="#666" stroke-width="1" fill="none"/>
<path d="M62.82 290.9V278.78" stroke="#9a9a9a" stroke-width="1" fill="none"/>
<path d="M61.02 290.9H64.62M61.02 278.78H64.62" stroke="#666" stroke-width="1" fill="none"/>
<path d="M86.84 281.41V242.22" stroke="#9a9a9a" stroke-width="1" fill="none"/>
<path d="M85.04 281.41H88.64M85.04 242.22H88.64" stroke="#666" stroke-width="1" fill="none"/>
<path d="M158.9 269.49V257.37" stroke="#9a9a9a" stroke-width="1" fill="none"/>
<path d="M157.1 269.49H160.7M157.1 257.37H160.7" stroke="#666" stroke-width="1" fill="none"/>
<path d="M182.92 298.58V278.38" stroke="#9a9a9a" stroke-width="1" fill="none"/>
<path d="M181.12 298.58H184.72M181.12 278.38H184.72" stroke="#666" stroke-width="1" fill="none"/>
<path d="M230.96 308.68V288.48" stroke="#9a9a9a" stroke-width="1" fill="none"/>
<path d="M229.16 308.68H232.76M229.16 288.48H232.76" stroke="#666" stroke-width="1" fill="none"/>
<path d="M55.61 296.16V280.4" stroke="#9a9a9a" stroke-width="1" fill="none"/>
<path d="M53.81 296.16H57.41M53.81 280.4H57.41" stroke="#666" stroke-width="1" fill="none"/>
<path d="M62.82 279.59V267.47" stroke="#9a9a9a" stroke-width="1" fill="none"/>
<path d="M61.02 279.59H64.62M61.02 267.47H64.62" stroke="#666" stroke-width="1" fill="none"/>
<path d="M86.84 243.03V216.37" stroke="#9a9a9a" stroke-width="1" fill="none"/>
<path d="M85.04 243.03H88.64M85.04 216.37H88.64" stroke="#666" stroke-width="1" fill="none"/>
<path d="M134.88 312.72V306.66" stroke="#9a9a9a" stroke-width="1" fill="none"/>
<path d="M133.08 312.72H136.68M133.08 306.66H136.68" stroke="#666" stroke-width="1" fill="none"/>
<path d="M158.9 252.73V247.07" stroke="#9a9a9a" stroke-width="1" fill="none"/>
<path d="M157.1 252.73H160.7M157.1 247.07H160.7" stroke="#666" stroke-width="1" fill="none"/>
<path d="M182.92 303.43V269.49" stroke="#9a9a9a" stroke-width="1" fill="none"/>
<path d="M181.12 303.43H184.72M181.12 269.49H184.72" stroke="#666" stroke-width="1" fill="none"/>
<path d="M230.96 321.61V275.15" stroke="#9a9a9a" stroke-width="1" fill="none"/>
<path d="M229.16 321.61H232.76M229.16 275.15H232.76" stroke="#666" stroke-width="1" fill="none"/>
<polyline points="55.61,325.85 62.82,326.46 86.84,316.36 134.88,332.52 158.9,319.99 182.92,326.25 230.96,331.91" fill="none" stroke="#4A7EBB" stroke-width="1.5" stroke-linejoin="round"/>
<circle cx="55.61" cy="325.85" r="2.34" fill="#4A7EBB"/>
<circle cx="62.82" cy="326.46" r="2.34" fill="#4A7EBB"/>
<circle cx="86.84" cy="316.36" r="2.34" fill="#4A7EBB"/>
<circle cx="134.88" cy="332.52" r="2.34" fill="#4A7EBB"/>
<circle cx="158.9" cy="319.99" r="2.34" fill="#4A7EBB"/>
<circle cx="182.92" cy="326.25" r="2.34" fill="#4A7EBB"/>
<circle cx="230.96" cy="331.91" r="2.34" fill="#4A7EBB"/>
<polyline points="55.61,308.88 62.82,308.48 86.84,299.19 134.88,324.03 158.9,298.18 182.92,306.26 230.96,315.14" fill="none" stroke="#C0504D" stroke-width="1.5" stroke-linejoin="round"/>
<rect x="53.45" y="306.72" width="4.32" height="4.32" fill="#C0504D"/>
<rect x="60.66" y="306.32" width="4.32" height="4.32" fill="#C0504D"/>
<rect x="84.68" y="297.03" width="4.32" height="4.32" fill="#C0504D"/>
<rect x="132.72" y="321.87" width="4.32" height="4.32" fill="#C0504D"/>
<rect x="156.74" y="296.02" width="4.32" height="4.32" fill="#C0504D"/>
<rect x="180.76" y="304.1" width="4.32" height="4.32" fill="#C0504D"/>
<rect x="228.8" y="312.98" width="4.32" height="4.32" fill="#C0504D"/>
<polyline points="55.61,299.79 62.82,295.15 86.84,285.45 134.88,320.4 158.9,276.56 182.92,298.18 230.96,308.28" fill="none" stroke="#9BBB59" stroke-width="1.5" stroke-linejoin="round"/>
<path d="M55.61 297.72L57.68 299.79L55.61 301.86L53.54 299.79Z" fill="#9BBB59"/>
<path d="M62.82 293.08L64.89 295.15L62.82 297.22L60.75 295.15Z" fill="#9BBB59"/>
<path d="M86.84 283.38L88.91 285.45L86.84 287.52L84.77 285.45Z" fill="#9BBB59"/>
<path d="M134.88 318.33L136.95 320.4L134.88 322.47L132.81 320.4Z" fill="#9BBB59"/>
<path d="M158.9 274.49L160.97 276.56L158.9 278.63L156.83 276.56Z" fill="#9BBB59"/>
<path d="M182.92 296.11L184.99 298.18L182.92 300.25L180.85 298.18Z" fill="#9BBB59"/>
<path d="M230.96 306.21L233.03 308.28L230.96 310.35L228.89 308.28Z" fill="#9BBB59"/>
<polyline points="55.61,294.54 62.82,284.84 86.84,261.82 134.88,315.75 158.9,263.43 182.92,288.48 230.96,298.58" fill="none" stroke="#8064A2" stroke-width="1.5" stroke-linejoin="round"/>
<path d="M55.61 292.02L58.13 296.43L53.09 296.43Z" fill="#8064A2"/>
<path d="M62.82 282.32L65.34 286.73L60.3 286.73Z" fill="#8064A2"/>
<path d="M86.84 259.3L89.36 263.71L84.32 263.71Z" fill="#8064A2"/>
<path d="M134.88 313.23L137.4 317.64L132.36 317.64Z" fill="#8064A2"/>
<path d="M158.9 260.91L161.42 265.32L156.38 265.32Z" fill="#8064A2"/>
<path d="M182.92 285.96L185.44 290.37L180.4 290.37Z" fill="#8064A2"/>
<path d="M230.96 296.06L233.48 300.47L228.44 300.47Z" fill="#8064A2"/>
<polyline points="55.61,288.28 62.82,273.53 86.84,229.7 134.88,309.69 158.9,249.9 182.92,286.46 230.96,298.38" fill="none" stroke="#4BACC6" stroke-width="1.5" stroke-linejoin="round"/>
<circle cx="55.61" cy="288.28" r="2.34" fill="#4BACC6"/>
<circle cx="62.82" cy="273.53" r="2.34" fill="#4BACC6"/>
<circle cx="86.84" cy="229.7" r="2.34" fill="#4BACC6"/>
<circle cx="134.88" cy="309.69" r="2.34" fill="#4BACC6"/>
<circle cx="158.9" cy="249.9" r="2.34" fill="#4BACC6"/>
<circle cx="182.92" cy="286.46" r="2.34" fill="#4BACC6"/>
<circle cx="230.96" cy="298.38" r="2.34" fill="#4BACC6"/>
<line x1="221.4" y1="206.8" x2="237" y2="206.8" stroke="#4A7EBB" stroke-width="1.6"/>
<circle cx="229.2" cy="206.8" r="2.34" fill="#4A7EBB"/>
<text x="238.6" y="210.6" font-size="11">1800 Oe</text>
<line x1="221.4" y1="218.8" x2="237" y2="218.8" stroke="#C0504D" stroke-width="1.6"/>
<rect x="227.04" y="216.64" width="4.32" height="4.32" fill="#C0504D"/>
<text x="238.6" y="222.6" font-size="11">3500 Oe</text>
<line x1="221.4" y1="230.5" x2="237" y2="230.5" stroke="#9BBB59" stroke-width="1.6"/>
<path d="M229.2 228.43L231.27 230.5L229.2 232.57L227.13 230.5Z" fill="#9BBB59"/>
<text x="238.6" y="234.3" font-size="11">5100 Oe</text>
<line x1="221.4" y1="242.2" x2="237" y2="242.2" stroke="#8064A2" stroke-width="1.6"/>
<path d="M229.2 239.68L231.72 244.09L226.68 244.09Z" fill="#8064A2"/>
<text x="238.6" y="246" font-size="11">6500 Oe</text>
<line x1="221.4" y1="254.5" x2="237" y2="254.5" stroke="#4BACC6" stroke-width="1.6"/>
<circle cx="229.2" cy="254.5" r="2.34" fill="#4BACC6"/>
<text x="238.6" y="258.3" font-size="11">7490 Oe</text>
<text x="150" y="370.2" text-anchor="middle" font-size="14">Ar gas pressure (Pa)</text>
<text x="155" y="389.8" text-anchor="middle" font-size="14">(c)</text>
<text transform="translate(11.1,273.4) rotate(-90)" text-anchor="middle" font-size="14">Magnetostriction (ppm)</text>
<path d="M353.6 199H594.1V340.6H353.6Z" fill="none" stroke="#202020" stroke-width="1.5" stroke-linejoin="miter"/>
<line x1="353.6" y1="340.6" x2="357.1" y2="340.6" stroke="#202020" stroke-width="1.3"/>
<text x="344.6" y="345.2" text-anchor="end" font-size="11">0</text>
<line x1="353.6" y1="317" x2="357.1" y2="317" stroke="#202020" stroke-width="1.3"/>
<text x="344.6" y="321.6" text-anchor="end" font-size="11">10</text>
<line x1="353.6" y1="293.4" x2="357.1" y2="293.4" stroke="#202020" stroke-width="1.3"/>
<text x="344.6" y="298" text-anchor="end" font-size="11">20</text>
<line x1="353.6" y1="269.8" x2="357.1" y2="269.8" stroke="#202020" stroke-width="1.3"/>
<text x="344.6" y="274.4" text-anchor="end" font-size="11">30</text>
<line x1="353.6" y1="246.2" x2="357.1" y2="246.2" stroke="#202020" stroke-width="1.3"/>
<text x="344.6" y="250.8" text-anchor="end" font-size="11">40</text>
<line x1="353.6" y1="222.6" x2="357.1" y2="222.6" stroke="#202020" stroke-width="1.3"/>
<text x="344.6" y="227.2" text-anchor="end" font-size="11">50</text>
<line x1="353.6" y1="199" x2="357.1" y2="199" stroke="#202020" stroke-width="1.3"/>
<text x="344.6" y="203.6" text-anchor="end" font-size="11">60</text>
<line x1="353.6" y1="340.6" x2="353.6" y2="337.1" stroke="#202020" stroke-width="1.3"/>
<text x="353.6" y="357.3" text-anchor="middle" font-size="11">0</text>
<line x1="401.7" y1="340.6" x2="401.7" y2="337.1" stroke="#202020" stroke-width="1.3"/>
<text x="401.7" y="357.3" text-anchor="middle" font-size="11">2</text>
<line x1="449.8" y1="340.6" x2="449.8" y2="337.1" stroke="#202020" stroke-width="1.3"/>
<text x="449.8" y="357.3" text-anchor="middle" font-size="11">4</text>
<line x1="497.9" y1="340.6" x2="497.9" y2="337.1" stroke="#202020" stroke-width="1.3"/>
<text x="497.9" y="357.3" text-anchor="middle" font-size="11">6</text>
<line x1="546" y1="340.6" x2="546" y2="337.1" stroke="#202020" stroke-width="1.3"/>
<text x="546" y="357.3" text-anchor="middle" font-size="11">8</text>
<line x1="594.1" y1="340.6" x2="594.1" y2="337.1" stroke="#202020" stroke-width="1.3"/>
<text x="594.1" y="357.3" text-anchor="middle" font-size="11">10</text>
<path d="M370.44 323.84V319.6" stroke="#9a9a9a" stroke-width="1" fill="none"/>
<path d="M368.63 323.84H372.24M368.63 319.6H372.24" stroke="#666" stroke-width="1" fill="none"/>
<path d="M401.7 336.35V297.18" stroke="#9a9a9a" stroke-width="1" fill="none"/>
<path d="M399.9 336.35H403.5M399.9 297.18H403.5" stroke="#666" stroke-width="1" fill="none"/>
<path d="M473.85 334.46V305.2" stroke="#9a9a9a" stroke-width="1" fill="none"/>
<path d="M472.05 334.46H475.65M472.05 305.2H475.65" stroke="#666" stroke-width="1" fill="none"/>
<path d="M497.9 329.51V315.35" stroke="#9a9a9a" stroke-width="1" fill="none"/>
<path d="M496.1 329.51H499.7M496.1 315.35H499.7" stroke="#666" stroke-width="1" fill="none"/>
<path d="M546 339.18V327.38" stroke="#9a9a9a" stroke-width="1" fill="none"/>
<path d="M544.2 339.18H547.8M544.2 327.38H547.8" stroke="#666" stroke-width="1" fill="none"/>
<path d="M370.44 304.02V288.44" stroke="#9a9a9a" stroke-width="1" fill="none"/>
<path d="M368.63 304.02H372.24M368.63 288.44H372.24" stroke="#666" stroke-width="1" fill="none"/>
<path d="M401.7 324.79V272.87" stroke="#9a9a9a" stroke-width="1" fill="none"/>
<path d="M399.9 324.79H403.5M399.9 272.87H403.5" stroke="#666" stroke-width="1" fill="none"/>
<path d="M473.85 305.44V287.97" stroke="#9a9a9a" stroke-width="1" fill="none"/>
<path d="M472.05 305.44H475.65M472.05 287.97H475.65" stroke="#666" stroke-width="1" fill="none"/>
<path d="M497.9 311.57V283.25" stroke="#9a9a9a" stroke-width="1" fill="none"/>
<path d="M496.1 311.57H499.7M496.1 283.25H499.7" stroke="#666" stroke-width="1" fill="none"/>
<path d="M546 318.65V309.21" stroke="#9a9a9a" stroke-width="1" fill="none"/>
<path d="M544.2 318.65H547.8M544.2 309.21H547.8" stroke="#666" stroke-width="1" fill="none"/>
<path d="M370.44 289.62V280.18" stroke="#9a9a9a" stroke-width="1" fill="none"/>
<path d="M368.63 289.62H372.24M368.63 280.18H372.24" stroke="#666" stroke-width="1" fill="none"/>
<path d="M377.65 287.74V283.02" stroke="#9a9a9a" stroke-width="1" fill="none"/>
<path d="M375.85 287.74H379.45M375.85 283.02H379.45" stroke="#666" stroke-width="1" fill="none"/>
<path d="M401.7 320.3V254.22" stroke="#9a9a9a" stroke-width="1" fill="none"/>
<path d="M399.9 320.3H403.5M399.9 254.22H403.5" stroke="#666" stroke-width="1" fill="none"/>
<path d="M473.85 277.35V265.55" stroke="#9a9a9a" stroke-width="1" fill="none"/>
<path d="M472.05 277.35H475.65M472.05 265.55H475.65" stroke="#666" stroke-width="1" fill="none"/>
<path d="M497.9 302.84V265.08" stroke="#9a9a9a" stroke-width="1" fill="none"/>
<path d="M496.1 302.84H499.7M496.1 265.08H499.7" stroke="#666" stroke-width="1" fill="none"/>
<path d="M546 314.4V304.96" stroke="#9a9a9a" stroke-width="1" fill="none"/>
<path d="M544.2 314.4H547.8M544.2 304.96H547.8" stroke="#666" stroke-width="1" fill="none"/>
<path d="M370.44 283.02V268.86" stroke="#9a9a9a" stroke-width="1" fill="none"/>
<path d="M368.63 283.02H372.24M368.63 268.86H372.24" stroke="#666" stroke-width="1" fill="none"/>
<path d="M377.65 280.42V268.62" stroke="#9a9a9a" stroke-width="1" fill="none"/>
<path d="M375.85 280.42H379.45M375.85 268.62H379.45" stroke="#666" stroke-width="1" fill="none"/>
<path d="M401.7 289.15V233.93" stroke="#9a9a9a" stroke-width="1" fill="none"/>
<path d="M399.9 289.15H403.5M399.9 233.93H403.5" stroke="#666" stroke-width="1" fill="none"/>
<path d="M473.85 284.9V228.26" stroke="#9a9a9a" stroke-width="1" fill="none"/>
<path d="M472.05 284.9H475.65M472.05 228.26H475.65" stroke="#666" stroke-width="1" fill="none"/>
<path d="M497.9 299.3V232.28" stroke="#9a9a9a" stroke-width="1" fill="none"/>
<path d="M496.1 299.3H499.7M496.1 232.28H499.7" stroke="#666" stroke-width="1" fill="none"/>
<path d="M546 305.44V291.28" stroke="#9a9a9a" stroke-width="1" fill="none"/>
<path d="M544.2 305.44H547.8M544.2 291.28H547.8" stroke="#666" stroke-width="1" fill="none"/>
<path d="M370.44 284.67V251.63" stroke="#9a9a9a" stroke-width="1" fill="none"/>
<path d="M368.63 284.67H372.24M368.63 251.63H372.24" stroke="#666" stroke-width="1" fill="none"/>
<path d="M377.65 265.55V255.17" stroke="#9a9a9a" stroke-width="1" fill="none"/>
<path d="M375.85 265.55H379.45M375.85 255.17H379.45" stroke="#666" stroke-width="1" fill="none"/>
<path d="M401.7 229.92V218.59" stroke="#9a9a9a" stroke-width="1" fill="none"/>
<path d="M399.9 229.92H403.5M399.9 218.59H403.5" stroke="#666" stroke-width="1" fill="none"/>
<path d="M449.8 307.32V300.24" stroke="#9a9a9a" stroke-width="1" fill="none"/>
<path d="M448 307.32H451.6M448 300.24H451.6" stroke="#666" stroke-width="1" fill="none"/>
<path d="M473.85 252.57V228.97" stroke="#9a9a9a" stroke-width="1" fill="none"/>
<path d="M472.05 252.57H475.65M472.05 228.97H475.65" stroke="#666" stroke-width="1" fill="none"/>
<path d="M497.9 295.05V232.28" stroke="#9a9a9a" stroke-width="1" fill="none"/>
<path d="M496.1 295.05H499.7M496.1 232.28H499.7" stroke="#666" stroke-width="1" fill="none"/>
<path d="M546 311.34V285.38" stroke="#9a9a9a" stroke-width="1" fill="none"/>
<path d="M544.2 311.34H547.8M544.2 285.38H547.8" stroke="#666" stroke-width="1" fill="none"/>
<polyline points="370.44,321.72 377.65,323.84 401.7,316.76 449.8,329.98 473.85,319.83 497.9,322.43 546,333.28" fill="none" stroke="#4A7EBB" stroke-width="1.5" stroke-linejoin="round"/>
<circle cx="370.44" cy="321.72" r="2.34" fill="#4A7EBB"/>
<circle cx="377.65" cy="323.84" r="2.34" fill="#4A7EBB"/>
<circle cx="401.7" cy="316.76" r="2.34" fill="#4A7EBB"/>
<circle cx="449.8" cy="329.98" r="2.34" fill="#4A7EBB"/>
<circle cx="473.85" cy="319.83" r="2.34" fill="#4A7EBB"/>
<circle cx="497.9" cy="322.43" r="2.34" fill="#4A7EBB"/>
<circle cx="546" cy="333.28" r="2.34" fill="#4A7EBB"/>
<polyline points="370.44,296.23 377.65,303.31 401.7,298.83 449.8,320.3 473.85,296.7 497.9,297.41 546,313.93" fill="none" stroke="#C0504D" stroke-width="1.5" stroke-linejoin="round"/>
<rect x="368.27" y="294.07" width="4.32" height="4.32" fill="#C0504D"/>
<rect x="375.49" y="301.15" width="4.32" height="4.32" fill="#C0504D"/>
<rect x="399.54" y="296.67" width="4.32" height="4.32" fill="#C0504D"/>
<rect x="447.64" y="318.14" width="4.32" height="4.32" fill="#C0504D"/>
<rect x="471.69" y="294.54" width="4.32" height="4.32" fill="#C0504D"/>
<rect x="495.74" y="295.25" width="4.32" height="4.32" fill="#C0504D"/>
<rect x="543.84" y="311.77" width="4.32" height="4.32" fill="#C0504D"/>
<polyline points="370.44,284.9 377.65,285.38 401.7,287.26 449.8,316.76 473.85,271.45 497.9,283.96 546,309.68" fill="none" stroke="#9BBB59" stroke-width="1.5" stroke-linejoin="round"/>
<rect x="368.27" y="282.74" width="4.32" height="4.32" fill="#9BBB59"/>
<rect x="375.49" y="283.22" width="4.32" height="4.32" fill="#9BBB59"/>
<rect x="399.54" y="285.1" width="4.32" height="4.32" fill="#9BBB59"/>
<rect x="447.64" y="314.6" width="4.32" height="4.32" fill="#9BBB59"/>
<rect x="471.69" y="269.29" width="4.32" height="4.32" fill="#9BBB59"/>
<rect x="495.74" y="281.8" width="4.32" height="4.32" fill="#9BBB59"/>
<rect x="543.84" y="307.52" width="4.32" height="4.32" fill="#9BBB59"/>
<polyline points="370.44,275.94 377.65,274.52 401.7,261.54 449.8,311.81 473.85,256.58 497.9,265.79 546,298.36" fill="none" stroke="#8064A2" stroke-width="1.5" stroke-linejoin="round"/>
<path d="M370.44 273.42L372.95 277.83L367.92 277.83Z" fill="#8064A2"/>
<path d="M377.65 272L380.17 276.41L375.13 276.41Z" fill="#8064A2"/>
<path d="M401.7 259.02L404.22 263.43L399.18 263.43Z" fill="#8064A2"/>
<path d="M449.8 309.29L452.32 313.7L447.28 313.7Z" fill="#8064A2"/>
<path d="M473.85 254.06L476.37 258.47L471.33 258.47Z" fill="#8064A2"/>
<path d="M497.9 263.27L500.42 267.68L495.38 267.68Z" fill="#8064A2"/>
<path d="M546 295.84L548.52 300.25L543.48 300.25Z" fill="#8064A2"/>
<polyline points="370.44,268.15 377.65,260.36 401.7,224.25 449.8,303.78 473.85,240.77 497.9,263.66 546,298.36" fill="none" stroke="#4BACC6" stroke-width="1.5" stroke-linejoin="round"/>
<circle cx="370.44" cy="268.15" r="2.34" fill="#4BACC6"/>
<circle cx="377.65" cy="260.36" r="2.34" fill="#4BACC6"/>
<circle cx="401.7" cy="224.25" r="2.34" fill="#4BACC6"/>
<circle cx="449.8" cy="303.78" r="2.34" fill="#4BACC6"/>
<circle cx="473.85" cy="240.77" r="2.34" fill="#4BACC6"/>
<circle cx="497.9" cy="263.66" r="2.34" fill="#4BACC6"/>
<circle cx="546" cy="298.36" r="2.34" fill="#4BACC6"/>
<line x1="536.2" y1="205.3" x2="551.5" y2="205.3" stroke="#4A7EBB" stroke-width="1.6"/>
<circle cx="543.85" cy="205.3" r="2.34" fill="#4A7EBB"/>
<text x="552.5" y="209.1" font-size="11">1800 Oe</text>
<line x1="536.2" y1="216.8" x2="551.5" y2="216.8" stroke="#C0504D" stroke-width="1.6"/>
<rect x="541.69" y="214.64" width="4.32" height="4.32" fill="#C0504D"/>
<text x="552.5" y="220.6" font-size="11">3500 Oe</text>
<line x1="536.2" y1="228.1" x2="551.5" y2="228.1" stroke="#9BBB59" stroke-width="1.6"/>
<rect x="541.69" y="225.94" width="4.32" height="4.32" fill="#9BBB59"/>
<text x="552.5" y="231.9" font-size="11">5100 Oe</text>
<line x1="536.2" y1="239.7" x2="551.5" y2="239.7" stroke="#8064A2" stroke-width="1.6"/>
<path d="M543.85 237.18L546.37 241.59L541.33 241.59Z" fill="#8064A2"/>
<text x="552.5" y="243.5" font-size="11">6500 Oe</text>
<line x1="536.2" y1="250.8" x2="551.5" y2="250.8" stroke="#4BACC6" stroke-width="1.6"/>
<circle cx="543.85" cy="250.8" r="2.34" fill="#4BACC6"/>
<text x="552.5" y="254.6" font-size="11">7490 Oe</text>
<text x="476" y="372.6" text-anchor="middle" font-size="14">Ar gas pressure (Pa)</text>
<text x="475.6" y="389.8" text-anchor="middle" font-size="14">(d)</text>
<text transform="translate(311.1,320.2) rotate(-90)" text-anchor="middle" font-size="14.7">Volume</text>
<text transform="translate(327.7,277.45) rotate(-90)" text-anchor="middle" font-size="14">magnetostriction (ppm)</text>
</svg></body></html>
